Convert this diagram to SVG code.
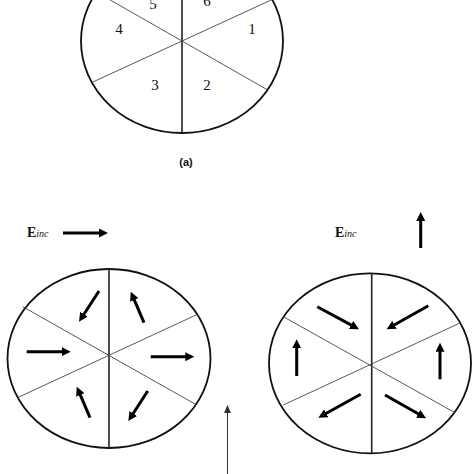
<svg xmlns="http://www.w3.org/2000/svg" width="474" height="474" viewBox="0 0 474 474">
<style>
.ell{fill:none;stroke:#111;stroke-width:1.8}
.vl{stroke:#222;stroke-width:1.6}
.dl{stroke:#444;stroke-width:0.9}
.arr{stroke:#000;stroke-width:3;marker-end:url(#ah)}
.thin{stroke:#333;stroke-width:1;marker-end:url(#ahs)}
.dig{font-family:"Liberation Serif",serif;font-size:15px;fill:#111;text-anchor:middle}
.E{font-family:"Liberation Serif",serif;font-size:14px;font-weight:bold;fill:#111}
.inc{font-family:"Liberation Serif",serif;font-size:10px;font-style:italic;fill:#111}
.cap{font-family:"Liberation Sans",sans-serif;font-size:11px;font-weight:bold;fill:#111;text-anchor:middle}
</style>
<defs>
<marker id="ah" markerUnits="userSpaceOnUse" markerWidth="10" markerHeight="9" refX="3" refY="4.5" orient="auto"><path d="M0,0 L9,4.5 L0,9 z" fill="#000"/></marker>
<marker id="ahs" markerUnits="userSpaceOnUse" markerWidth="8" markerHeight="7" refX="2" refY="3.5" orient="auto"><path d="M0,0 L8,3.5 L0,7 z" fill="#333"/></marker>
</defs>
<rect width="474" height="474" fill="#fff"/>
<g id="diagram-a">
<ellipse class="ell" cx="182" cy="41" rx="101" ry="92"/>
<line class="vl" x1="182" y1="-60" x2="182" y2="133"/>
<line class="dl" x1="96.6" y1="-7.8" x2="267.4" y2="89.8"/>
<line class="dl" x1="91.8" y1="82.5" x2="272.2" y2="-0.5"/>
<text class="dig" x="153" y="9">5</text>
<text class="dig" x="207" y="6">6</text>
<text class="dig" x="119" y="34">4</text>
<text class="dig" x="252" y="34">1</text>
<text class="dig" x="155" y="90">3</text>
<text class="dig" x="207" y="90">2</text>
<text class="cap" x="186" y="166">(a)</text>
</g>
<g id="einc-left">
<text x="27" y="237"><tspan class="E">E</tspan><tspan class="inc">inc</tspan></text>
</g>
<g id="einc-right">
<text x="335" y="237"><tspan class="E">E</tspan><tspan class="inc">inc</tspan></text>
</g>
<g id="disk-left">
<ellipse class="ell" cx="109" cy="358.5" rx="101.5" ry="89.5"/>
<line class="vl" x1="109" y1="269" x2="109" y2="448"/>
<line class="dl" x1="22.7" y1="306.7" x2="195" y2="404"/>
<line class="dl" x1="18.3" y1="397.3" x2="196" y2="315"/>
</g>
<g id="disk-right">
<ellipse class="ell" cx="370" cy="363.3" rx="101" ry="90"/>
<line class="vl" x1="371.7" y1="273.3" x2="371.7" y2="453.3"/>
<line class="dl" x1="283.3" y1="316.7" x2="455" y2="412.7"/>
<line class="dl" x1="283.3" y1="405" x2="459.3" y2="323.3"/>
</g>
<g id="connectors">
<line class="arr" x1="63" y1="233" x2="102" y2="233"/>
<line class="arr" x1="420.7" y1="248" x2="420.7" y2="218"/>
<line class="arr" x1="99" y1="291" x2="82.3" y2="316.7"/>
<line class="arr" x1="144" y1="322.7" x2="133.1" y2="297.2"/>
<line class="arr" x1="26.7" y1="351.7" x2="64.7" y2="351.7"/>
<line class="arr" x1="150.7" y1="356.7" x2="188.3" y2="356.7"/>
<line class="arr" x1="90" y1="417.7" x2="79.1" y2="392.2"/>
<line class="arr" x1="147.7" y1="391" x2="131.6" y2="416"/>
<line class="arr" x1="317.3" y1="306.7" x2="353.7" y2="326.4"/>
<line class="arr" x1="428.3" y1="305.7" x2="391.9" y2="326.3"/>
<line class="arr" x1="296.7" y1="376" x2="296.7" y2="345.3"/>
<line class="arr" x1="440" y1="379.3" x2="440" y2="348.7"/>
<line class="arr" x1="360.7" y1="394.3" x2="323.6" y2="414.8"/>
<line class="arr" x1="385" y1="395" x2="420.8" y2="415.3"/>
<line class="thin" x1="227.5" y1="474" x2="227.5" y2="411"/>
</g>
</svg>
